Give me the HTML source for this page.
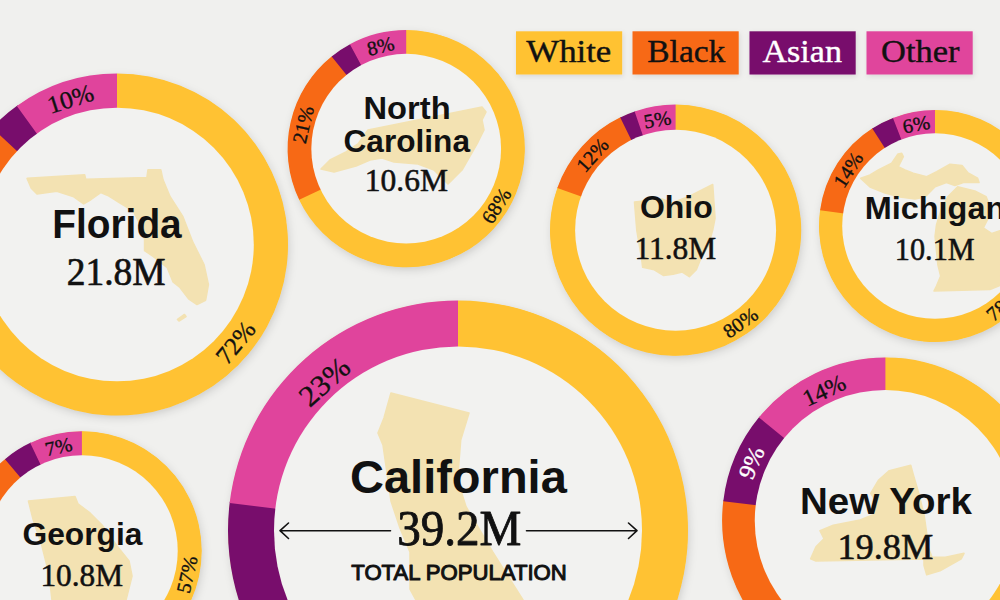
<!DOCTYPE html>
<html><head><meta charset="utf-8"><title>Most populous states by race</title>
<style>
html,body{margin:0;padding:0;background:#f0f0ee;}
body{width:1000px;height:600px;overflow:hidden;font-family:"Liberation Sans",sans-serif;}
svg{display:block}
</style></head><body>
<svg width="1000" height="600" viewBox="0 0 1000 600">
<defs><filter id="sh2" x="-10%" y="-20%" width="120%" height="150%"><feDropShadow dx="1" dy="2" stdDeviation="2.5" flood-color="#000" flood-opacity="0.10"/></filter><filter id="sh" x="-10%" y="-10%" width="120%" height="120%"><feDropShadow dx="1.5" dy="3" stdDeviation="4" flood-color="#000" flood-opacity="0.15"/></filter></defs>
<rect width="1000" height="600" fill="#f0f0ee"/>
<circle cx="117" cy="244.5" r="170.60" fill="#ffc233" filter="url(#sh)"/>
<path d="M117.00 73.50A171.00 171.00 0 1 1 -50.97 276.54L-16.39 269.95A135.80 135.80 0 1 0 117.00 108.70Z" fill="#ffc233"/>
<path d="M-50.77 277.57A171.00 171.00 0 0 1 -7.24 127.01L18.33 151.19A135.80 135.80 0 0 0 -16.24 270.76Z" fill="#f76915"/>
<path d="M-7.96 127.77A171.00 171.00 0 0 1 17.70 105.29L38.14 133.94A135.80 135.80 0 0 0 17.76 151.80Z" fill="#780d6c"/>
<path d="M16.85 105.90A171.00 171.00 0 0 1 117.00 73.50L117.00 108.70A135.80 135.80 0 0 0 37.47 134.43Z" fill="#e0449c"/>
<circle cx="117" cy="244.5" r="136.80" fill="#f2f2f0"/>
<circle cx="406.2" cy="148.7" r="118.20" fill="#ffc233" filter="url(#sh)"/>
<path d="M406.20 30.10A118.60 118.60 0 1 1 298.89 199.20L321.25 188.67A93.88 93.88 0 1 0 406.20 54.82Z" fill="#ffc233"/>
<path d="M299.20 199.85A118.60 118.60 0 0 1 332.21 56.01L347.63 75.33A93.88 93.88 0 0 0 321.50 189.19Z" fill="#f76915"/>
<path d="M331.64 56.47A118.60 118.60 0 0 1 350.52 43.98L362.13 65.81A93.88 93.88 0 0 0 347.18 75.69Z" fill="#780d6c"/>
<path d="M349.88 44.32A118.60 118.60 0 0 1 406.20 30.10L406.20 54.82A93.88 93.88 0 0 0 361.62 66.08Z" fill="#e0449c"/>
<circle cx="406.2" cy="148.7" r="94.88" fill="#f2f2f0"/>
<circle cx="675.6" cy="230.2" r="125.20" fill="#ffc233" filter="url(#sh)"/>
<path d="M675.60 104.60A125.60 125.60 0 1 1 557.57 187.24L582.12 196.18A99.48 99.48 0 1 0 675.60 130.72Z" fill="#ffc233"/>
<path d="M557.31 187.96A125.60 125.60 0 0 1 620.93 117.12L632.30 140.64A99.48 99.48 0 0 0 581.91 196.75Z" fill="#f76915"/>
<path d="M620.25 117.46A125.60 125.60 0 0 1 635.33 111.23L643.71 135.97A99.48 99.48 0 0 0 631.76 140.90Z" fill="#780d6c"/>
<path d="M634.61 111.48A125.60 125.60 0 0 1 675.60 104.60L675.60 130.72A99.48 99.48 0 0 0 643.13 136.17Z" fill="#e0449c"/>
<circle cx="675.6" cy="230.2" r="100.48" fill="#f2f2f0"/>
<circle cx="935" cy="226" r="115.60" fill="#ffc233" filter="url(#sh)"/>
<path d="M935.00 110.00A116.00 116.00 0 1 1 820.19 209.46L844.14 212.91A91.80 91.80 0 1 0 935.00 134.20Z" fill="#ffc233"/>
<path d="M820.09 210.16A116.00 116.00 0 0 1 872.84 128.06L885.81 148.49A91.80 91.80 0 0 0 844.06 213.46Z" fill="#f76915"/>
<path d="M872.25 128.44A116.00 116.00 0 0 1 893.62 117.63L902.25 140.24A91.80 91.80 0 0 0 885.34 148.79Z" fill="#780d6c"/>
<path d="M892.96 117.89A116.00 116.00 0 0 1 935.00 110.00L935.00 134.20A91.80 91.80 0 0 0 901.73 140.44Z" fill="#e0449c"/>
<circle cx="935" cy="226" r="92.80" fill="#f2f2f0"/>
<circle cx="81.9" cy="551" r="119.40" fill="#ffc233" filter="url(#sh)"/>
<path d="M81.90 431.20A119.80 119.80 0 1 1 30.89 659.40L41.52 636.81A94.84 94.84 0 1 0 81.90 456.16Z" fill="#ffc233"/>
<path d="M31.55 659.71A119.80 119.80 0 0 1 5.54 458.69L21.45 477.92A94.84 94.84 0 0 0 42.04 637.06Z" fill="#f76915"/>
<path d="M4.97 459.16A119.80 119.80 0 0 1 30.89 442.60L41.52 465.19A94.84 94.84 0 0 0 21.00 478.30Z" fill="#780d6c"/>
<path d="M30.23 442.92A119.80 119.80 0 0 1 81.90 431.20L81.90 456.16A94.84 94.84 0 0 0 41.00 465.43Z" fill="#e0449c"/>
<circle cx="81.9" cy="551" r="95.84" fill="#f2f2f0"/>
<circle cx="458" cy="530.5" r="229.60" fill="#ffc233" filter="url(#sh)"/>
<path d="M458.00 300.50A230.00 230.00 0 1 1 373.33 744.35L390.63 700.65A183.00 183.00 0 1 0 458.00 347.50Z" fill="#ffc233"/>
<path d="M374.64 744.86A230.00 230.00 0 0 1 300.55 698.16L332.73 663.90A183.00 183.00 0 0 0 391.67 701.06Z" fill="#f76915"/>
<path d="M301.58 699.12A230.00 230.00 0 0 1 229.81 501.67L276.44 507.56A183.00 183.00 0 0 0 333.55 664.66Z" fill="#780d6c"/>
<path d="M229.64 503.07A230.00 230.00 0 0 1 458.00 300.50L458.00 347.50A183.00 183.00 0 0 0 276.31 508.67Z" fill="#e0449c"/>
<circle cx="458" cy="530.5" r="184.00" fill="#f2f2f0"/>
<circle cx="885.4" cy="520.7" r="162.90" fill="#ffc233" filter="url(#sh)"/>
<path d="M885.40 357.40A163.30 163.30 0 1 1 773.61 639.74L796.66 615.20A129.64 129.64 0 1 0 885.40 391.06Z" fill="#ffc233"/>
<path d="M774.34 640.42A163.30 163.30 0 0 1 723.39 500.23L756.78 504.45A129.64 129.64 0 0 0 797.23 615.74Z" fill="#f76915"/>
<path d="M723.27 501.22A163.30 163.30 0 0 1 759.58 416.61L785.51 438.06A129.64 129.64 0 0 0 756.69 505.24Z" fill="#780d6c"/>
<path d="M758.94 417.38A163.30 163.30 0 0 1 885.40 357.40L885.40 391.06A129.64 129.64 0 0 0 785.01 438.68Z" fill="#e0449c"/>
<circle cx="885.4" cy="520.7" r="130.64" fill="#f2f2f0"/>
<path d="M27.1 178.4L84.6 174.7L85.7 179.3L146.9 177.6L148 169.9L160.8 169.9L163 179.8L170.1 196.8L182.9 216.7L192.8 242.2L204.1 264.8L208.4 284.6L205.6 300.2L197 304.5L188.6 298.8L180 287.5L173 281.8L167.3 267.6L153.1 256.3L144.6 250.7L144.6 239.3L141.8 228L133.3 211L119.2 202.5L107.8 195.4L100.7 192.6L90.8 199.7L83.7 203.9L73.8 196.8L56.8 191.2L37 194L31.3 188.3ZM177.5 319.5L184.5 314.5L186 316.5L179 321Z" fill="#f3e2b2" stroke="#f3e2b2" stroke-width="1.6" stroke-linejoin="round"/>
<path d="M321 169L330 160L346 152L358 144L368 130L482 107L486 112L482 120L484 130L478 142L470 156L462 170L454 178L448 184L442 178L434 170L418 164L394 162L382 158L370 160L356 166L334 172Z" fill="#f3e2b2" stroke="#f3e2b2" stroke-width="1.6" stroke-linejoin="round"/>
<path d="M634.5 202L662 199L672 203L690 196L712.7 184.5L715 218.3L712.7 230L708 246.3L701 258L696.3 269.7L689.3 276.7L682.3 272L673 274.3L663.7 275.5L654.3 269.7L642.7 267.3L641.5 258L636.8 230Z" fill="#f3e2b2" stroke="#f3e2b2" stroke-width="1.6" stroke-linejoin="round"/>
<path d="M860.8 178.3L870 175L878.3 170L891.7 163.3L898 154L901.7 153.3L903.3 156.7L898.3 166.7L905 170L913.3 173.3L926.7 176.7L936.7 171.7L950 164.2L962 165.5L967.7 172.6L977.6 178.3L979 182.5L963.4 182.5L954.9 185.4L946.4 182.5L935.1 186.8L925 197L915 199L900 197L885 193L870 187ZM957.7 186.8L974.8 191L986.1 196.7L991.8 210.9L983.3 227.9L991.8 233.6L1000 230.7L1000 285.5L990 289.5L934 291L936.5 286L940.7 276.1L937.9 264.8L935.1 236.4L936.5 225.1L941 210L947.8 196.7Z" fill="#f3e2b2" stroke="#f3e2b2" stroke-width="1.6" stroke-linejoin="round"/>
<path d="M28.5 501L75 496.5L78 504L90 513L102 525L117 546L129 561L132 576L129 588L126 600L52 600L51 591L48 570L42 546L33 519Z" fill="#f3e2b2" stroke="#f3e2b2" stroke-width="1.6" stroke-linejoin="round"/>
<path d="M391 393L469 413L460.7 440L457.5 480L466 506.7L492.7 552L523 600L416 600L410 589L410 552L400 528L391 501L383 445L378 433L384 418Z" fill="#f3e2b2" stroke="#f3e2b2" stroke-width="1.6" stroke-linejoin="round"/>
<path d="M810.7 558.7L816 546.7L824 538.7L820 530.7L833.3 525.3L860 520L873.3 514.7L876 501.3L870.7 493.3L878.7 480L889.3 470.7L910.7 465.3L913.3 474.7L918.7 493.3L924 514.7L926.7 533.3L928 546.7L932 557.3L945.3 557.3L964 553.3L961.3 558.7L940 570.7L926.7 574.7L924 565.3L924 559L816 561Z" fill="#f3e2b2" stroke="#f3e2b2" stroke-width="1.6" stroke-linejoin="round"/>
<text transform="translate(235.58 342.60) rotate(-50.40) scale(1.04 1)" x="0" y="8.31" text-anchor="middle" font-family="Liberation Serif, serif" font-size="24.8" fill="#111111" stroke="#111111" stroke-width="0.35">72%</text>
<text transform="translate(70.39 98.88) rotate(-17.75) scale(1.04 1)" x="0" y="8.31" text-anchor="middle" font-family="Liberation Serif, serif" font-size="24.8" fill="#111111" stroke="#111111" stroke-width="0.35">10%</text>
<text transform="translate(496.32 205.89) rotate(-57.60) scale(1.02 1)" x="0" y="6.70" text-anchor="middle" font-family="Liberation Serif, serif" font-size="20.0" fill="#111111" stroke="#111111" stroke-width="0.35">68%</text>
<text transform="translate(303.21 124.73) rotate(-76.90) scale(1.02 1)" x="0" y="6.70" text-anchor="middle" font-family="Liberation Serif, serif" font-size="20.0" fill="#111111" stroke="#111111" stroke-width="0.35">21%</text>
<text transform="translate(380.62 46.10) rotate(-14.00) scale(1.02 1)" x="0" y="6.70" text-anchor="middle" font-family="Liberation Serif, serif" font-size="20.0" fill="#111111" stroke="#111111" stroke-width="0.35">8%</text>
<text transform="translate(740.44 322.80) rotate(-35.00) scale(1.02 1)" x="0" y="6.70" text-anchor="middle" font-family="Liberation Serif, serif" font-size="20.0" fill="#111111" stroke="#111111" stroke-width="0.35">80%</text>
<text transform="translate(592.47 155.09) rotate(-47.90) scale(1.02 1)" x="0" y="6.70" text-anchor="middle" font-family="Liberation Serif, serif" font-size="20.0" fill="#111111" stroke="#111111" stroke-width="0.35">12%</text>
<text transform="translate(657.40 119.65) rotate(-9.35) scale(1.02 1)" x="0" y="6.70" text-anchor="middle" font-family="Liberation Serif, serif" font-size="20.0" fill="#111111" stroke="#111111" stroke-width="0.35">5%</text>
<text transform="translate(1003.35 304.91) rotate(-40.90) scale(1.02 1)" x="0" y="6.70" text-anchor="middle" font-family="Liberation Serif, serif" font-size="20.0" fill="#111111" stroke="#111111" stroke-width="0.35">78%</text>
<text transform="translate(848.18 169.84) rotate(-57.10) scale(1.02 1)" x="0" y="6.70" text-anchor="middle" font-family="Liberation Serif, serif" font-size="20.0" fill="#111111" stroke="#111111" stroke-width="0.35">14%</text>
<text transform="translate(916.25 124.32) rotate(-10.45) scale(1.02 1)" x="0" y="6.70" text-anchor="middle" font-family="Liberation Serif, serif" font-size="20.0" fill="#111111" stroke="#111111" stroke-width="0.35">6%</text>
<text transform="translate(187.12 574.52) rotate(-77.40) scale(1.02 1)" x="0" y="6.70" text-anchor="middle" font-family="Liberation Serif, serif" font-size="20.0" fill="#111111" stroke="#111111" stroke-width="0.35">57%</text>
<text transform="translate(58.60 446.75) rotate(-12.60) scale(1.02 1)" x="0" y="6.70" text-anchor="middle" font-family="Liberation Serif, serif" font-size="20.0" fill="#111111" stroke="#111111" stroke-width="0.35">7%</text>
<text transform="translate(324.43 381.64) rotate(-41.90) scale(1.06 1)" x="0" y="9.88" text-anchor="middle" font-family="Liberation Serif, serif" font-size="29.5" fill="#111111" stroke="#111111" stroke-width="0.35">23%</text>
<text transform="translate(824.10 390.43) rotate(-25.20) scale(1.04 1)" x="0" y="7.87" text-anchor="middle" font-family="Liberation Serif, serif" font-size="23.5" fill="#111111" stroke="#111111" stroke-width="0.35">14%</text>
<text transform="translate(751.44 462.73) rotate(-66.60) scale(1.04 1)" x="0" y="7.87" text-anchor="middle" font-family="Liberation Serif, serif" font-size="23.5" fill="#ffffff" stroke="#ffffff" stroke-width="0.35">9%</text>
<text x="52.30" y="237.70" textLength="129.40" lengthAdjust="spacingAndGlyphs" font-family="Liberation Sans, sans-serif" font-weight="bold" font-size="41.5" fill="#111111">Florida</text>
<text x="66.70" y="285.00" textLength="99.00" lengthAdjust="spacingAndGlyphs" font-family="Liberation Serif, serif" font-weight="normal" font-size="40" fill="#111111" stroke="#111111" stroke-width="0.68" stroke-linejoin="round">21.8M</text>
<text x="363.50" y="119.00" textLength="87.10" lengthAdjust="spacingAndGlyphs" font-family="Liberation Sans, sans-serif" font-weight="bold" font-size="31" fill="#111111">North</text>
<text x="343.50" y="151.60" textLength="126.50" lengthAdjust="spacingAndGlyphs" font-family="Liberation Sans, sans-serif" font-weight="bold" font-size="31" fill="#111111">Carolina</text>
<text x="364.80" y="191.00" textLength="83.20" lengthAdjust="spacingAndGlyphs" font-family="Liberation Serif, serif" font-weight="normal" font-size="30.5" fill="#111111" stroke="#111111" stroke-width="0.52" stroke-linejoin="round">10.6M</text>
<text x="639.90" y="218.30" textLength="72.80" lengthAdjust="spacingAndGlyphs" font-family="Liberation Sans, sans-serif" font-weight="bold" font-size="31" fill="#111111">Ohio</text>
<text x="634.40" y="259.20" textLength="81.80" lengthAdjust="spacingAndGlyphs" font-family="Liberation Serif, serif" font-weight="normal" font-size="30.5" fill="#111111" stroke="#111111" stroke-width="0.52" stroke-linejoin="round">11.8M</text>
<text x="864.70" y="218.70" textLength="140.60" lengthAdjust="spacingAndGlyphs" font-family="Liberation Sans, sans-serif" font-weight="bold" font-size="31" fill="#111111">Michigan</text>
<text x="894.80" y="259.90" textLength="79.90" lengthAdjust="spacingAndGlyphs" font-family="Liberation Serif, serif" font-weight="normal" font-size="30.5" fill="#111111" stroke="#111111" stroke-width="0.52" stroke-linejoin="round">10.1M</text>
<text x="22.50" y="544.50" textLength="120.00" lengthAdjust="spacingAndGlyphs" font-family="Liberation Sans, sans-serif" font-weight="bold" font-size="31" fill="#111111">Georgia</text>
<text x="40.40" y="586.00" textLength="82.60" lengthAdjust="spacingAndGlyphs" font-family="Liberation Serif, serif" font-weight="normal" font-size="30.5" fill="#111111" stroke="#111111" stroke-width="0.52" stroke-linejoin="round">10.8M</text>
<text x="350.00" y="492.80" textLength="216.80" lengthAdjust="spacingAndGlyphs" font-family="Liberation Sans, sans-serif" font-weight="bold" font-size="46.5" fill="#111111">California</text>
<text x="397.20" y="545.30" textLength="124.30" lengthAdjust="spacingAndGlyphs" font-family="Liberation Serif, serif" font-weight="normal" font-size="50" fill="#111111" stroke="#111111" stroke-width="0.85" stroke-linejoin="round">39.2M</text>
<text x="351.30" y="580.00" textLength="215.50" lengthAdjust="spacingAndGlyphs" font-family="Liberation Sans, sans-serif" font-weight="normal" font-size="22.3" fill="#111111" stroke="#111111" stroke-width="1.05" stroke-linejoin="round">TOTAL POPULATION</text>
<text x="800.00" y="514.10" textLength="172.00" lengthAdjust="spacingAndGlyphs" font-family="Liberation Sans, sans-serif" font-weight="bold" font-size="36" fill="#111111">New York</text>
<text x="837.40" y="558.70" textLength="95.90" lengthAdjust="spacingAndGlyphs" font-family="Liberation Serif, serif" font-weight="normal" font-size="36" fill="#111111" stroke="#111111" stroke-width="0.61" stroke-linejoin="round">19.8M</text>
<g fill="none" stroke="#111111" stroke-width="1.6" stroke-linecap="round" stroke-linejoin="round"><path d="M390.5 530.7H280.5M288.5 523L280 530.7L288.5 538.5"/><path d="M526.5 530.7H636.5M628.5 523L637 530.7L628.5 538.5"/></g>
<g filter="url(#sh2)">
<rect x="516" y="31.3" width="106.2" height="43.2" fill="#ffc233"/>
<rect x="632.5" y="31.3" width="106.2" height="43.2" fill="#f76915"/>
<rect x="749.5" y="31.3" width="106.2" height="43.2" fill="#780d6c"/>
<rect x="866.5" y="31.3" width="106.2" height="43.2" fill="#e0449c"/>
</g>
<text x="526.30" y="61.80" textLength="85.00" lengthAdjust="spacingAndGlyphs" font-family="Liberation Serif, serif" font-weight="normal" font-size="32.5" fill="#111111" stroke="#111111" stroke-width="0.4" stroke-linejoin="round">White</text>
<text x="647.30" y="61.80" textLength="78.00" lengthAdjust="spacingAndGlyphs" font-family="Liberation Serif, serif" font-weight="normal" font-size="32.5" fill="#111111" stroke="#111111" stroke-width="0.4" stroke-linejoin="round">Black</text>
<text x="762.50" y="61.80" textLength="79.50" lengthAdjust="spacingAndGlyphs" font-family="Liberation Serif, serif" font-weight="normal" font-size="32.5" fill="#ffffff" stroke="#ffffff" stroke-width="0.4" stroke-linejoin="round">Asian</text>
<text x="881.00" y="61.80" textLength="78.50" lengthAdjust="spacingAndGlyphs" font-family="Liberation Serif, serif" font-weight="normal" font-size="32.5" fill="#111111" stroke="#111111" stroke-width="0.4" stroke-linejoin="round">Other</text>
</svg>
</body></html>
